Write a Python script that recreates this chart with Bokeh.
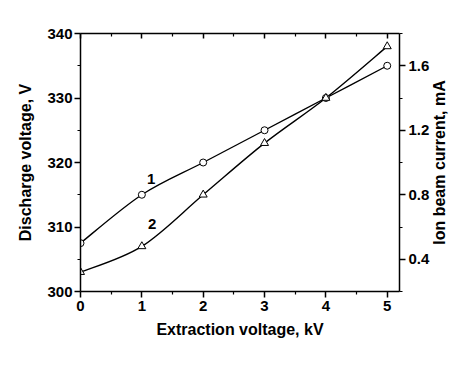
import math
from bokeh.plotting import figure
from bokeh.layouts import row
from bokeh.models import Range1d, LinearAxis, FixedTicker, Label
from bokeh.core.properties import value
from bokeh.embed import file_html
from bokeh.resources import INLINE

# Data
extraction_kv = [0, 1, 2, 3, 4, 5]
discharge_v = [307.5, 315.0, 320.0, 325.0, 330.0, 335.0]      # curve 1 (left axis)
beam_current_ma = [0.32, 0.48, 0.80, 1.12, 1.40, 1.72]        # curve 2 (right axis)

x_ticks = [0, 1, 2, 3, 4, 5]
x_minor = [0.5, 1.5, 2.5, 3.5, 4.5]
y_ticks = [300, 310, 320, 330, 340]
y_minor = [305, 315, 325, 335]
r_ticks = [0.4, 0.8, 1.2, 1.6]
r_minor = [0.2, 0.6, 1.0, 1.4, 1.8]

FONT = "Liberation Sans"


def bezier_segments(xs, ys):
    n = len(xs)
    x0, y0, x1, y1, cx0, cy0, cx1, cy1 = [], [], [], [], [], [], [], []
    for i in range(n - 1):
        im1 = max(i - 1, 0)
        ip2 = min(i + 2, n - 1)
        x0.append(xs[i]); y0.append(ys[i])
        x1.append(xs[i + 1]); y1.append(ys[i + 1])
        cx0.append(xs[i] + (xs[i + 1] - xs[im1]) / 6.0)
        cy0.append(ys[i] + (ys[i + 1] - ys[im1]) / 6.0)
        cx1.append(xs[i + 1] - (xs[ip2] - xs[i]) / 6.0)
        cy1.append(ys[i + 1] - (ys[ip2] - ys[i]) / 6.0)
    return dict(x0=x0, y0=y0, x1=x1, y1=y1, cx0=cx0, cy0=cy0, cx1=cx1, cy1=cy1)


p = figure(width=432, height=358, x_range=Range1d(0, 5.2), y_range=Range1d(300, 340),
           output_backend="svg", toolbar_location=None,
           min_border_left=80, min_border_right=32, min_border_top=33, min_border_bottom=67)
p.extra_y_ranges = {"right": Range1d(0.2, 1.8)}
p.xgrid.visible = False
p.ygrid.visible = False
p.outline_line_color = None
p.background_fill_color = "white"
p.border_fill_color = "white"


def style_axis(ax, label, out=True):
    ax.axis_label = label
    ax.axis_line_width = 1.5
    ax.axis_line_color = "black"
    ax.major_tick_line_width = 1.5
    ax.minor_tick_line_width = 1.2
    ax.major_tick_line_color = "black"
    ax.minor_tick_line_color = "black"
    if out:
        ax.major_tick_out = 6
        ax.major_tick_in = 0
        ax.minor_tick_out = 3
        ax.minor_tick_in = 0
    else:
        ax.major_tick_out = 0
        ax.major_tick_in = 5
        ax.minor_tick_out = 0
        ax.minor_tick_in = 3
    ax.major_label_text_font = FONT
    ax.major_label_text_font_style = "bold"
    ax.major_label_text_font_size = "15px"
    ax.major_label_text_color = "black"
    ax.axis_label_text_font = FONT
    ax.axis_label_text_font_style = "bold"
    ax.axis_label_text_font_size = "16px"
    ax.axis_label_text_color = "black"


xa = p.xaxis[0]
xa.ticker = FixedTicker(ticks=x_ticks, minor_ticks=x_minor)
style_axis(xa, "Extraction voltage, kV")
xa.major_label_standoff = 3
xa.axis_label_standoff = 7

ya = p.yaxis[0]
ya.ticker = FixedTicker(ticks=y_ticks, minor_ticks=y_minor)
style_axis(ya, "Discharge voltage, V")
ya.major_label_standoff = 2
ya.axis_label_standoff = 10

ra = LinearAxis(y_range_name="right", ticker=FixedTicker(ticks=r_ticks, minor_ticks=r_minor))
style_axis(ra, None)
ra.major_label_standoff = 3
p.add_layout(ra, "right")

ta = LinearAxis(ticker=FixedTicker(ticks=x_ticks, minor_ticks=x_minor))
style_axis(ta, None, out=False)
ta.major_label_text_alpha = 0
ta.major_label_text_font_size = "1px"
ta.major_label_standoff = 0
p.add_layout(ta, "above")

# Curves
s1 = bezier_segments(extraction_kv, discharge_v)
p.bezier(line_color="black", line_width=1.4, **s1)
s2 = bezier_segments(extraction_kv, beam_current_ma)
p.bezier(line_color="black", line_width=1.4, y_range_name="right", **s2)

p.scatter(extraction_kv, discharge_v, marker="circle", size=7, line_color="black",
          fill_color="white", line_width=1)
p.scatter(extraction_kv, beam_current_ma, marker="triangle", size=8, line_color="black",
          fill_color="white", line_width=1, y_range_name="right")

for txt, xx, yy in [("1", 1.15, 317.5), ("2", 1.17, 310.5)]:
    p.add_layout(Label(x=xx, y=yy, text=txt, text_font=FONT, text_font_style="bold",
                       text_font_size="15px", text_align="center", text_baseline="middle",
                       text_color="black"))

# Narrow companion panel carrying the right-axis title (reads bottom-to-top)
p2 = figure(width=34, height=358, x_range=Range1d(0, 1), y_range=p.y_range,
            output_backend="svg", toolbar_location=None,
            min_border_left=0, min_border_right=0, min_border_top=33, min_border_bottom=67)
p2.axis.visible = False
p2.xgrid.visible = False
p2.ygrid.visible = False
p2.outline_line_color = None
p2.background_fill_color = "white"
p2.border_fill_color = "white"
p2.text(x=[0.22], y=[320], text=["Ion beam current, mA"], angle=math.pi / 2,
        text_font=value(FONT), text_font_style="bold", text_font_size="16px",
        text_align="center", text_baseline="middle", text_color="black")

layout = row(p, p2, spacing=0)
open("out.html", "w").write(file_html(layout, INLINE))
